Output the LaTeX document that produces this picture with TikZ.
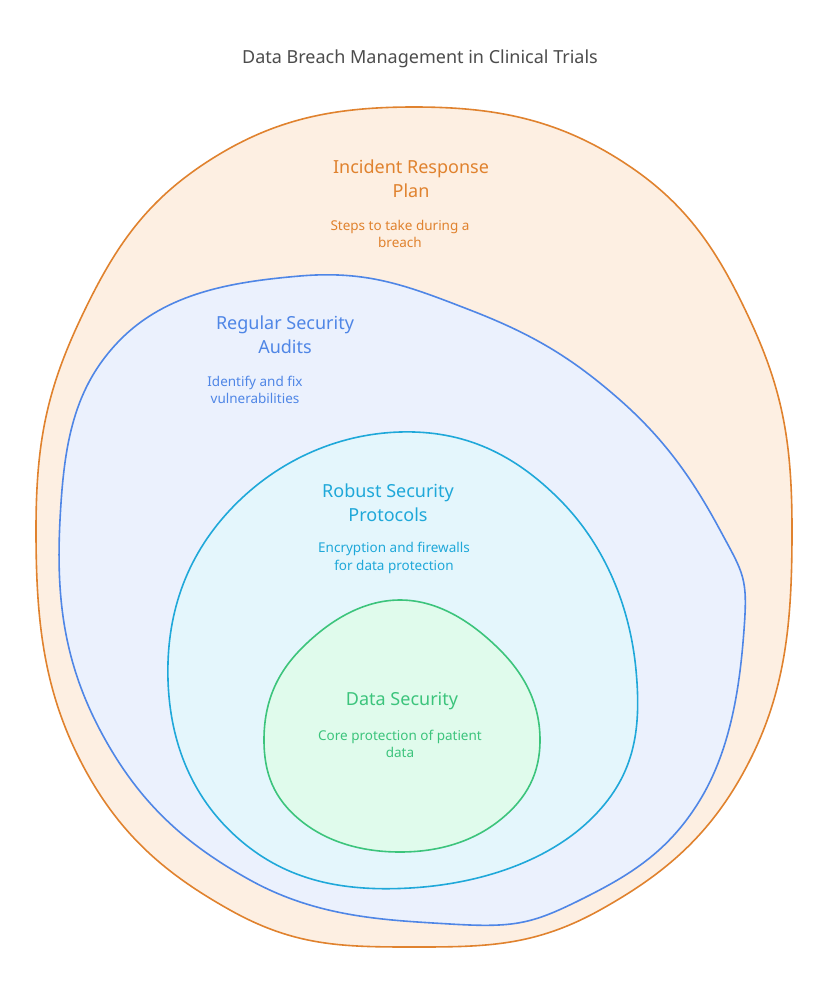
\documentclass[tikz,border=0pt]{standalone}
\usepackage{fontspec}
\setmainfont{Noto Sans}
\definecolor{co}{HTML}{E0822E}\definecolor{fo}{HTML}{FDEFE2}
\definecolor{cb}{HTML}{4F86E6}\definecolor{fb}{HTML}{EBF1FD}
\definecolor{cc}{HTML}{1FA8D9}\definecolor{fc}{HTML}{E4F6FC}
\definecolor{cg}{HTML}{3CC47C}\definecolor{fg}{HTML}{E0FBEC}
\begin{document}
\begin{tikzpicture}[x=1pt,y=-1pt,
 blob/.style={line width=1.6pt},
 ttl/.style={font=\bfseries\fontsize{18}{24}\selectfont,align=center},
 dsc/.style={font=\fontsize{13.5}{17.5}\selectfont,align=center}]
\useasboundingbox (0,0) rectangle (840,996);
\node[font=\fontsize{18}{22}\selectfont,text=black!70] (title) at (420,59) {Data Breach Management in Clinical Trials};
\draw[blob,draw=co,fill=fo] plot[smooth cycle,tension=0.7] coordinates {(414,107)(620,160)(750,320)(792,530)(750,760)(600,910)(414,947)(230,910)(80,760)(36,530)(80,320)(210,160)};
\draw[blob,draw=cb,fill=fb] plot[smooth cycle,tension=0.7] coordinates {(300,276)(470,310)(620,400)(720,530)(744,630)(700,800)(580,900)(450,924)(250,880)(100,730)(60,520)(120,340)};
\draw[blob,draw=cc,fill=fc] plot[smooth cycle,tension=0.7] coordinates {(400,432)(560,500)(636,670)(590,820)(410,888)(240,840)(168,680)(230,510)};
\draw[blob,draw=cg,fill=fg] plot[smooth cycle,tension=0.7] coordinates {(400,600)(500,650)(540,740)(500,820)(400,852)(300,820)(264,740)(300,650)};
\node[ttl,text=co] (t1) at (411,179) {Incident Response\\Plan};
\node[dsc,text=co] (d1) at (400,234) {Steps to take during a\\breach};
\node[ttl,text=cb] (t2) at (285,335) {Regular Security\\Audits};
\node[dsc,text=cb] (d2) at (255,390) {Identify and fix\\vulnerabilities};
\node[ttl,text=cc] (t3) at (388,503) {Robust Security\\Protocols};
\node[dsc,text=cc] (d3) at (394,558) {Encryption and firewalls\\for data protection};
\node[ttl,text=cg] (t4) at (402,701) {Data Security};
\node[dsc,text=cg] (d4) at (400,744) {Core protection of patient\\data};
\end{tikzpicture}
\end{document}
